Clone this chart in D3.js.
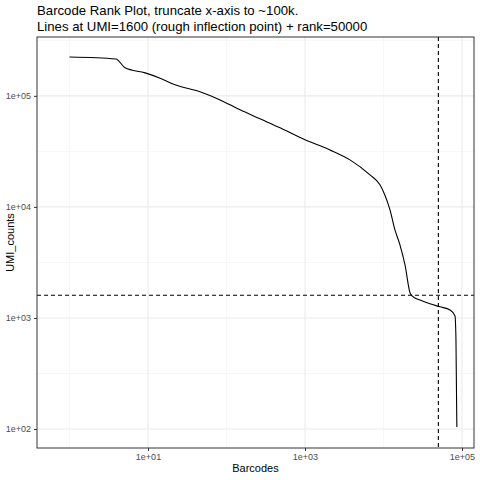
<!DOCTYPE html>
<html><head><meta charset="utf-8">
<script src="https://cdn.jsdelivr.net/npm/d3@7"></script>
<style>body{margin:0;background:#fff}text{font-family:"Liberation Sans",Arial,sans-serif}</style>
</head><body><svg id="c" width="480" height="480"></svg>
<script>
const ranks=[1,3.9,5.1,9.2,14,22,46,83,149,267,481,1000,2080,3740,6730,9020,10400,12100,14000,16200,18800,21800,23100,29200,39100,52500,70300,81500,83800,86000];
const umis=[224000,215000,179000,161000,145000,126000,109000,92000,74800,62100,51500,40200,32600,26500,19400,15800,12800,9400,6200,4550,3000,1680,1580,1450,1340,1260,1180,1040,634,104];
const xTicks=[10,1000,100000];
const yTicks=[100,1000,10000,100000];
const xTickLabels=["1e+01","1e+03","1e+05"];
const yTickLabels=["1e+02","1e+03","1e+04","1e+05"];
const xMinor=[1,100,10000];
const yMinor=[Math.pow(10,2.5),Math.pow(10,3.5),Math.pow(10,4.5),Math.pow(10,5.5)];
const vline=50000, hline=1600;

const svg=d3.select("#c");
const L=37,R=474,T=37,B=448;
const x=d3.scaleLog().domain([Math.pow(10,-0.414),Math.pow(10,5.153)]).range([L,R]);
const y=d3.scaleLog().domain([Math.pow(10,1.829),Math.pow(10,5.53)]).range([B,T]);

const g=svg.append("g");
g.selectAll(".xm").data(xMinor).join("line").attr("x1",d=>x(d)).attr("x2",d=>x(d)).attr("y1",T).attr("y2",B).attr("stroke","#f2f2f2").attr("stroke-width",0.6);
g.selectAll(".ym").data(yMinor).join("line").attr("y1",d=>y(d)).attr("y2",d=>y(d)).attr("x1",L).attr("x2",R).attr("stroke","#f2f2f2").attr("stroke-width",0.6);
g.selectAll(".xM").data(xTicks).join("line").attr("x1",d=>x(d)).attr("x2",d=>x(d)).attr("y1",T).attr("y2",B).attr("stroke","#ebebeb").attr("stroke-width",1.1);
g.selectAll(".yM").data(yTicks).join("line").attr("y1",d=>y(d)).attr("y2",d=>y(d)).attr("x1",L).attr("x2",R).attr("stroke","#ebebeb").attr("stroke-width",1.1);

const line=d3.line().x((d,i)=>x(ranks[i])).y((d,i)=>y(umis[i])).curve(d3.curveMonotoneX);
svg.append("path").attr("d",line(umis)).attr("fill","none").attr("stroke","#000").attr("stroke-width",1.1);

svg.append("line").attr("x1",x(vline)).attr("x2",x(vline)).attr("y1",T).attr("y2",B).attr("stroke","#000").attr("stroke-dasharray","4,3").attr("stroke-width",1.1);
svg.append("line").attr("y1",y(hline)).attr("y2",y(hline)).attr("x1",L).attr("x2",R).attr("stroke","#000").attr("stroke-dasharray","4,3").attr("stroke-width",1.1);

svg.append("rect").attr("x",L).attr("y",T).attr("width",R-L).attr("height",B-T).attr("fill","none").attr("stroke","#333").attr("stroke-width",1);

const xa=svg.append("g").attr("transform",`translate(0,${B})`).call(d3.axisBottom(x).tickValues(xTicks).tickFormat((d,i)=>xTickLabels[i]).tickSize(3).tickPadding(3));
const ya=svg.append("g").attr("transform",`translate(${L},0)`).call(d3.axisLeft(y).tickValues(yTicks).tickFormat((d,i)=>yTickLabels[i]).tickSize(3).tickPadding(3));
[xa,ya].forEach(a=>{a.select(".domain").remove();a.selectAll("line").attr("stroke","#333");a.selectAll("text").attr("fill","#4d4d4d").style("font-size","9px").style("font-family","Liberation Sans, Arial, sans-serif");});

svg.append("text").attr("x",(L+R)/2).attr("y",472).attr("text-anchor","middle").style("font-size","11px").text("Barcodes");
svg.append("text").attr("transform",`translate(14,${(T+B)/2}) rotate(-90)`).attr("text-anchor","middle").style("font-size","11px").text("UMI_counts");
svg.append("text").attr("x",L).attr("y",15).style("font-size","13.2px").text("Barcode Rank Plot, truncate x-axis to ~100k.");
svg.append("text").attr("x",L).attr("y",31).style("font-size","13.2px").text("Lines at UMI=1600 (rough inflection point) + rank=50000");
</script></body></html>
